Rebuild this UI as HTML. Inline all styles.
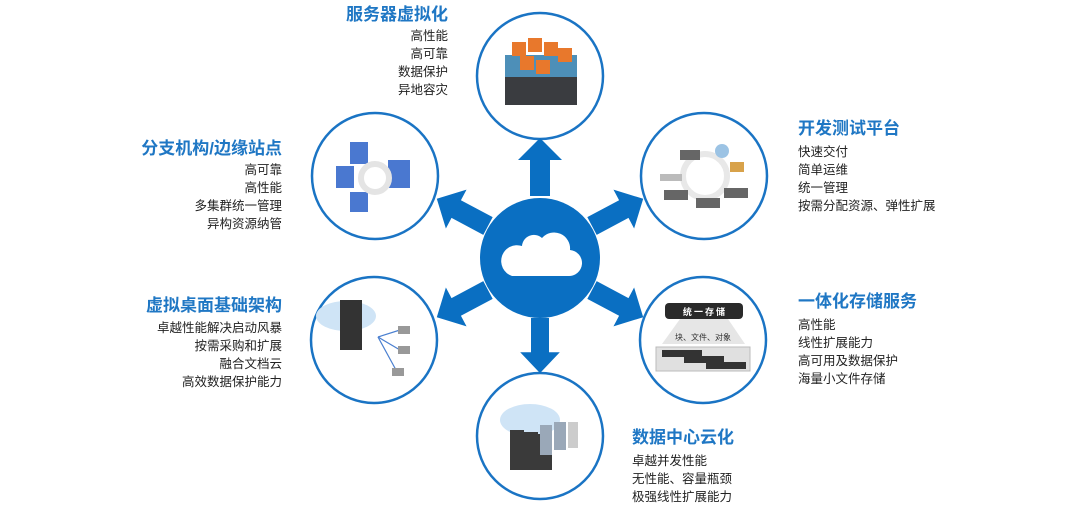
<!DOCTYPE html>
<html><head><meta charset="utf-8"><style>
body{margin:0;width:1080px;height:506px;background:#fff;position:relative;overflow:hidden;font-family:"Liberation Sans","Noto Sans CJK SC",sans-serif}
.t{position:absolute;color:#1f77c4;font-weight:bold;font-size:17px;line-height:20px;white-space:nowrap}
.l{position:absolute;color:#222;font-size:12.5px;line-height:18px;white-space:nowrap}
.r{text-align:right}
</style></head><body>
<svg width="1080" height="506" style="position:absolute;left:0;top:0">
<defs>
<g id="arr"><polygon points="-10,0 10,0 10,-36 22,-36 0,-58 -22,-36 -10,-36" fill="#0a6fc2"/></g>
</defs>
<g fill="#fff" stroke="#1a74c4" stroke-width="2.5">
<circle cx="540" cy="76" r="63"/><circle cx="375" cy="176" r="63"/><circle cx="704" cy="176" r="63"/>
<circle cx="374" cy="340" r="63"/><circle cx="703" cy="340" r="63"/><circle cx="540" cy="436" r="63"/>
</g>
<!-- arrows -->
<use href="#arr" transform="translate(540,196)"/>
<use href="#arr" transform="translate(540,318) rotate(180) scale(0.9,0.95)"/>
<use href="#arr" transform="translate(488,226) rotate(-62)"/>
<use href="#arr" transform="translate(592,226) rotate(62)"/>
<use href="#arr" transform="translate(488,290) rotate(-118)"/>
<use href="#arr" transform="translate(592,290) rotate(118)"/>
<circle cx="540" cy="258" r="60" fill="#0a6fc2"/>
<path d="M512,276 h56 a13,13 0 0 0 2,-26 a16,16 0 0 0 -28,-12 a12,12 0 0 0 -20,8 a15,15 0 0 0 -10,30z" fill="#fff"/>
<!-- top icon -->
<rect x="505" y="75" width="72" height="30" fill="#3a3c40"/>
<rect x="505" y="55" width="72" height="22" fill="#4d8fb8"/>
<g fill="#e8782c"><rect x="512" y="42" width="14" height="14"/><rect x="528" y="38" width="14" height="14"/><rect x="544" y="42" width="14" height="14"/><rect x="558" y="48" width="14" height="14"/><rect x="520" y="56" width="14" height="14"/><rect x="536" y="60" width="14" height="14"/></g>
<!-- top-left icon -->
<g fill="#4a78d0"><rect x="350" y="142" width="18" height="22"/><rect x="336" y="166" width="18" height="22"/><rect x="388" y="160" width="22" height="28"/><rect x="350" y="192" width="18" height="20"/></g>
<circle cx="375" cy="178" r="14" fill="none" stroke="#e4e4e4" stroke-width="6"/>
<!-- top-right icon -->
<circle cx="705" cy="176" r="22" fill="none" stroke="#e8e8e8" stroke-width="6"/>
<g fill="#666"><rect x="664" y="190" width="24" height="10"/><rect x="696" y="198" width="24" height="10"/><rect x="724" y="188" width="24" height="10"/><rect x="680" y="150" width="20" height="10"/></g>
<rect x="660" y="174" width="22" height="7" fill="#bbb"/><circle cx="722" cy="151" r="7" fill="#9cc3e4"/><rect x="730" y="162" width="14" height="10" fill="#d8a24a"/>
<!-- bottom-left icon -->
<ellipse cx="346" cy="316" rx="30" ry="15" fill="#cfe4f6"/>
<rect x="340" y="300" width="22" height="50" fill="#333"/>
<g stroke="#4a7fd0" stroke-width="1.2"><line x1="378" y1="337" x2="400" y2="330"/><line x1="378" y1="337" x2="400" y2="350"/><line x1="378" y1="337" x2="396" y2="370"/></g>
<g fill="#999"><rect x="398" y="326" width="12" height="8"/><rect x="398" y="346" width="12" height="8"/><rect x="392" y="368" width="12" height="8"/></g>
<!-- bottom-right icon -->
<rect x="665" y="303" width="78" height="16" rx="4" fill="#2a2a2a"/>
<polygon points="680,319 728,319 745,344 662,344" fill="#e6e6e6"/>
<rect x="656" y="347" width="94" height="24" fill="#e0e0e0" stroke="#bbb"/>
<g fill="#333"><rect x="662" y="350" width="40" height="7"/><rect x="684" y="356" width="40" height="7"/><rect x="706" y="362" width="40" height="7"/></g>
<text x="704" y="315" fill="#fff" font-size="9" font-weight="bold" text-anchor="middle" font-family="Noto Sans CJK SC">统 一 存 储</text>
<text x="703" y="340" fill="#333" font-size="8" text-anchor="middle" font-family="Noto Sans CJK SC">块、文件、对象</text>
<!-- bottom icon -->
<ellipse cx="530" cy="420" rx="30" ry="16" fill="#cfe4f6"/>
<g fill="#3a3a3a"><rect x="510" y="430" width="14" height="40"/><rect x="524" y="432" width="14" height="38"/><rect x="538" y="434" width="14" height="36"/></g>
<g fill="#9aa8b8"><rect x="540" y="425" width="12" height="30"/><rect x="554" y="422" width="12" height="28"/><rect x="568" y="422" width="10" height="26" fill="#ccc"/></g>
</svg>
<div class="t r" style="right:632px;top:5px">服务器虚拟化</div>
<div class="l r" style="right:632px;top:27px">高性能<br>高可靠<br>数据保护<br>异地容灾</div>
<div class="t r" style="right:798px;top:139px">分支机构/边缘站点</div>
<div class="l r" style="right:798px;top:161px">高可靠<br>高性能<br>多集群统一管理<br>异构资源纳管</div>
<div class="t" style="left:798px;top:119px">开发测试平台</div>
<div class="l" style="left:798px;top:143px">快速交付<br>简单运维<br>统一管理<br>按需分配资源、弹性扩展</div>
<div class="t r" style="right:798px;top:296px">虚拟桌面基础架构</div>
<div class="l r" style="right:798px;top:319px">卓越性能解决启动风暴<br>按需采购和扩展<br>融合文档云<br>高效数据保护能力</div>
<div class="t" style="left:798px;top:292px">一体化存储服务</div>
<div class="l" style="left:798px;top:316px">高性能<br>线性扩展能力<br>高可用及数据保护<br>海量小文件存储</div>
<div class="t" style="left:632px;top:428px">数据中心云化</div>
<div class="l" style="left:632px;top:452px">卓越并发性能<br>无性能、容量瓶颈<br>极强线性扩展能力</div>
</body></html>
